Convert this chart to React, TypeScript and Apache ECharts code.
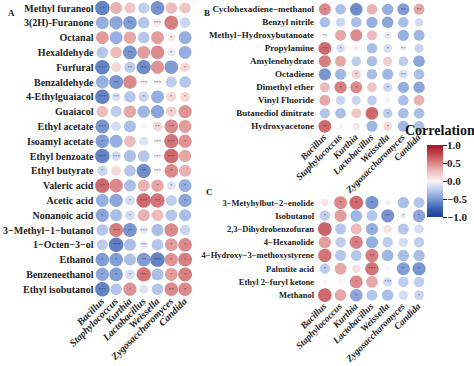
import React, { useEffect, useRef } from "react";
import * as echarts from "echarts";

const cols = ["Bacillus", "Staphylococcus", "Kurthia", "Lactobacillus", "Weissella", "Zygosaccharomyces", "Candida"];

const rowsA = ["Methyl furaneol", "3(2H)-Furanone", "Octanal", "Hexaldehyde", "Furfural", "Benzaldehyde", "4-Ethylguaiacol", "Guaiacol", "Ethyl acetate", "Isoamyl acetate", "Ethyl benzoate", "Ethyl butyrate", "Valeric acid", "Acetic acid", "Nonanoic acid", "3\u2212Methyl\u22121\u2212butanol", "1\u2212Octen\u22123\u2212ol", "Ethanol", "Benzeneethanol", "Ethyl isobutanol"];
const valuesA = [
  [-0.75, 0.4, 0.3, -0.3, -0.65, 0.35, 0.3],
  [-0.5, -0.55, -0.6, -0.35, 0.1, 0.65, -0.25],
  [0.5, -0.5, 0.45, -0.35, 0.5, 0.1, -0.5],
  [-0.35, 0.35, -0.65, 0.5, 0.6, -0.1, -0.5],
  [-0.75, 0.2, -0.3, -0.7, 0.55, -0.6, 0.2],
  [-0.5, -0.65, 0.6, 0.05, 0.05, -0.3, -0.35],
  [-0.75, -0.15, -0.35, -0.25, -0.5, 0.2, 0.2],
  [0.35, -0.3, 0.45, -0.45, -0.55, 0.25, 0.55],
  [-0.65, -0.2, -0.4, -0.03, 0.2, 0.6, 0.5],
  [-0.6, -0.5, 0.35, -0.15, 0.03, 0.7, 0.55],
  [-0.75, -0.2, -0.4, -0.35, 0.03, 0.75, 0.45],
  [-0.25, 0.2, -0.35, -0.7, 0.03, 0.6, 0.4],
  [0.75, 0.6, -0.4, 0.4, 0.45, -0.15, -0.5],
  [-0.5, -0.55, -0.2, 0.75, 0.7, -0.3, -0.55],
  [-0.55, -0.4, -0.2, 0.4, 0.35, -0.35, -0.4],
  [-0.35, 0.65, -0.65, -0.1, -0.4, 0.6, -0.25],
  [-0.3, -0.8, -0.4, -0.1, -0.35, 0.5, 0.6],
  [-0.6, -0.6, -0.4, -0.6, -0.75, 0.55, 0.65],
  [-0.55, -0.6, -0.2, 0.7, -0.4, 0.5, 0.65],
  [-0.75, -0.35, 0.55, -0.15, -0.35, 0.6, 0.6],
];
const sigA = [
  ["**", "", "", "", "*", "", ""],
  ["", "", "**", "", "***", "", ""],
  ["", "", "", "", "", "*", ""],
  ["", "", "**", "", "", "*", ""],
  ["***", "", "**", "**", "", "", "*"],
  ["", "**", "", "***", "***", "", ""],
  ["***", "**", "", "*", "", "*", "*"],
  ["", "", "", "", "", "*", ""],
  ["***", "", "", "", "**", "**", ""],
  ["*", "", "", "", "***", "***", "*"],
  ["***", "***", "", "", "***", "***", ""],
  ["*", "", "", "**", "***", "*", ""],
  ["**", "", "", "", "*", "*", "*"],
  ["", "", "*", "***", "**", "", "*"],
  ["*", "", "*", "", "", "", ""],
  ["", "***", "**", "***", "", "*", ""],
  ["", "***", "", "**", "", "*", "*"],
  ["*", "*", "", "**", "***", "*", "*"],
  ["*", "*", "*", "**", "", "*", "*"],
  ["***", "", "*", "", "", "**", "*"],
];

const rowsB = ["Cyclohexadiene\u2212methanol", "Benzyl nitrile", "Methyl\u2212Hydroxybutanoate", "Propylamine", "Amylenehydrate", "Octadiene", "Dimethyl ether", "Vinyl Fluoride", "Butanediol dinitrate", "Hydroxyacetone"];
const valuesB = [
  [0.6, -0.4, -0.7, 0.4, -0.5, -0.6, 0.45],
  [-0.4, -0.25, -0.4, -0.5, -0.55, -0.4, -0.2],
  [0.03, 0.45, 0.6, 0.35, -0.1, -0.5, -0.45],
  [0.75, -0.2, 0.05, -0.4, -0.2, 0.05, -0.25],
  [0.65, 0.45, -0.3, -0.4, 0.25, -0.3, -0.55],
  [-0.65, -0.45, 0.25, -0.4, -0.45, -0.2, -0.4],
  [0.35, 0.65, 0.6, 0.3, -0.25, -0.5, -0.55],
  [0.45, -0.25, -0.25, -0.3, 0.05, -0.4, 0.4],
  [-0.35, -0.4, 0.3, 0.75, -0.3, -0.4, -0.4],
  [0.75, 0.02, 0.1, -0.45, 0.2, -0.45, -0.4],
];
const sigB = [
  ["*", "", "*", "", "", "**", "**"],
  ["", "", "", "", "", "", ""],
  ["**", "", "", "", "*", "", ""],
  ["**", "*", "", "", "*", "**", ""],
  ["", "", "", "", "", "", ""],
  ["", "", "*", "", "", "**", ""],
  ["", "*", "*", "", "*", "", ""],
  ["", "", "", "", "", "", ""],
  ["", "", "", "", "*", "", ""],
  ["**", "", "", "", "*", "", ""],
];

const rowsC = ["3\u2212Metyhylbut\u22122\u2212enolide", "Isobutanol", "2,3\u2212Dihydrobenzofuran", "4\u2212Hexanolide", "4\u2212Hydroxy\u22123\u2212methoxystyrene", "Palmtite acid", "Ethyl 2\u2212furyl ketone", "Methanol"];
const valuesC = [
  [0.1, 0.6, 0.75, -0.65, 0.05, -0.4, -0.35],
  [-0.3, 0.5, -0.45, -0.35, -0.65, -0.05, -0.55],
  [0.8, -0.35, 0.35, -0.5, 0.15, -0.35, -0.2],
  [0.5, -0.3, 0.65, -0.5, -0.3, -0.2, -0.3],
  [0.7, -0.35, -0.35, 0.65, -0.45, -0.4, -0.4],
  [-0.3, 0.45, 0.15, 0.7, 0.02, -0.6, -0.65],
  [0.03, 0.03, 0.6, 0.45, -0.2, -0.3, -0.3],
  [0.75, 0.45, -0.55, -0.35, -0.4, -0.2, -0.25],
];
const sigC = [
  ["", "*", "*", "*", "", "", ""],
  ["*", "", "", "", "**", "*", "*"],
  ["", "", "", "*", "", "", ""],
  ["", "", "*", "", "", "", ""],
  ["", "", "", "**", "", "", ""],
  ["*", "", "", "***", "", "*", "*"],
  ["", "", "*", "", "***", "", ""],
  ["", "", "*", "", "", "", "*"],
];

const colorbarTicks = [-1, -0.5, 0, 0.5, 1];
const palette = ["#1e3f95", "#3d64b5", "#7b9bd8", "#bccbed", "#f8f4f6", "#f0c3c3", "#dc8585", "#c2454a", "#a8152a"];

const FONT = "'Liberation Serif', 'Times New Roman', serif";

const panels = [
  { rows: rowsA, values: valuesA, sig: sigA, left: 80, top: 0.6, cw: 16, ch: 14.8, font: 10, xfont: 10 },
  { rows: rowsB, values: valuesB, sig: sigB, left: 317, top: 2.8, cw: 15.7, ch: 13, font: 9, xfont: 9.5 },
  { rows: rowsC, values: valuesC, sig: sigC, left: 317, top: 196, cw: 15.7, ch: 14, font: 8.5, xfont: 9.5 },
];
const bar = { left: 427, top: 145, width: 16, height: 72 };

function sizeOf(r: number, cell: number) {
  return cell * Math.min(1, Math.pow(Math.abs(r) / 0.75, 0.3));
}

function buildOption() {
  const grid: any[] = [];
  const xAxis: any[] = [];
  const yAxis: any[] = [];
  const series: any[] = [];
  panels.forEach((p, i) => {
    grid.push({ left: p.left, top: p.top, width: p.cw * cols.length, height: p.ch * p.rows.length, containLabel: false });
    xAxis.push({
      type: "category", gridIndex: i, data: cols,
      axisLine: { show: false }, axisTick: { show: false }, splitLine: { show: false },
      axisLabel: { rotate: 45, interval: 0, margin: 3, fontFamily: FONT, fontStyle: "italic", fontWeight: "bold", fontSize: p.xfont, color: "#222" },
    });
    yAxis.push({
      type: "category", gridIndex: i, data: p.rows, inverse: true,
      axisLine: { show: false }, axisTick: { show: false }, splitLine: { show: false },
      axisLabel: { interval: 0, margin: i === 0 ? 2 : 3, fontFamily: FONT, fontWeight: "bold", fontSize: p.font, color: "#222" },
    });
    const data: any[] = [];
    p.values.forEach((row, r) => row.forEach((v, c) => data.push([c, r, v, p.sig[r][c]])));
    const cell = Math.min(p.cw, p.ch) * 0.98;
    series.push({
      type: "scatter", xAxisIndex: i, yAxisIndex: i, data,
      symbolSize: (d: any) => sizeOf(d[2], cell),
      label: { show: true, position: "inside", formatter: (q: any) => q.data[3], fontSize: 5, color: "#1a1a2a", fontFamily: FONT },
      emphasis: { disabled: true },
    });
  });
  grid.push({ left: bar.left, top: bar.top, width: bar.width, height: bar.height });
  xAxis.push({ type: "category", gridIndex: 3, data: [""], show: false });
  yAxis.push({
    type: "value", gridIndex: 3, min: -1, max: 1, interval: 0.5, position: "right",
    axisLine: { show: false }, splitLine: { show: false },
    axisTick: { show: true, length: 4, lineStyle: { color: "#222", width: 1 } },
    axisLabel: { margin: 4, fontFamily: FONT, fontWeight: "bold", fontSize: 11, color: "#222",
      formatter: (v: number) => (colorbarTicks.includes(v) ? (v < 0 ? "\u2212" + Math.abs(v).toFixed(1) : v.toFixed(1)) : "") },
  });
  const letter = { fontFamily: FONT, fontWeight: "bold", fontSize: 9, color: "#222" };
  return {
    animation: false,
    backgroundColor: "#fff",
    title: [
      { text: "A", left: 3, top: 3, textStyle: letter },
      { text: "B", left: 199, top: 3, textStyle: letter },
      { text: "C", left: 201, top: 182, textStyle: letter },
      { text: "Correlation", left: 400, top: 118, textStyle: { fontFamily: FONT, fontWeight: "bold", fontSize: 14, color: "#111" } },
    ],
    visualMap: { type: "continuous", show: false, min: -1, max: 1, dimension: 2, seriesIndex: [0, 1, 2], inRange: { color: palette } },
    grid, xAxis, yAxis, series,
    graphic: [{
      type: "rect", left: bar.left, top: bar.top, shape: { width: bar.width, height: bar.height },
      style: { fill: new echarts.graphic.LinearGradient(0, 0, 0, 1, palette.slice().reverse().map((c, k) => ({ offset: k / (palette.length - 1), color: c }))) },
    }],
  };
}

export default function App() {
  const ref = useRef<HTMLDivElement>(null);
  useEffect(() => {
    const chart = echarts.init(ref.current!, null, { renderer: "svg" });
    chart.setOption(buildOption() as any);
    return () => chart.dispose();
  }, []);
  return <div ref={ref} style={{ width: 474, height: 366, position: "absolute", left: 0, top: 0 }} />;
}
